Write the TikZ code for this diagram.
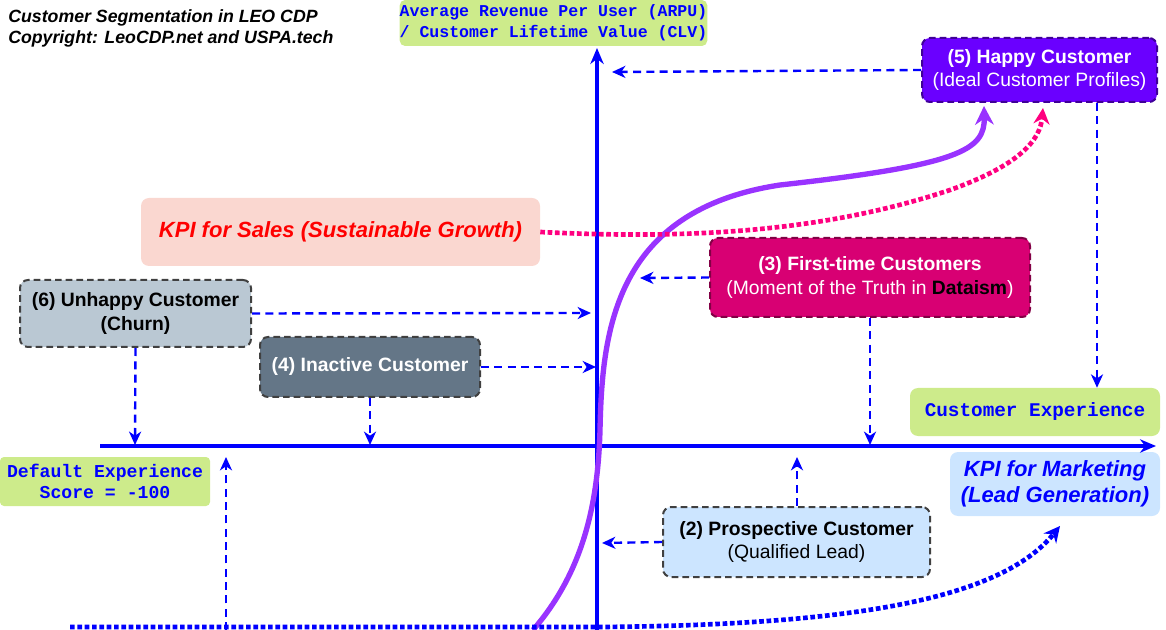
\documentclass[tikz,border=0pt]{standalone}
\usepackage{fontspec}
\setmainfont{Liberation Sans}
\setmonofont{Liberation Mono}
\usetikzlibrary{arrows.meta}
\definecolor{grn}{HTML}{CDEB8B}
\definecolor{happy}{HTML}{6A00FF}
\definecolor{first}{HTML}{D80073}
\definecolor{unh}{HTML}{BAC8D3}
\definecolor{inact}{HTML}{647687}
\definecolor{light}{HTML}{CCE5FF}
\definecolor{salesbg}{HTML}{FAD7D0}
\definecolor{pinkl}{HTML}{FF0080}
\definecolor{purp}{HTML}{9933FF}
\definecolor{ax}{HTML}{0000FF}
\tikzset{
  box/.style={rounded corners=6pt, inner sep=0pt, align=center, font=\fontsize{14.5}{17.5}\selectfont},
  dbox/.style={box, draw=black!75, dashed, dash pattern=on 5pt off 3pt, line width=1.5pt},
  darr/.style={ax, line width=1.8pt, dash pattern=on 6pt off 4pt, -{Stealth[length=10pt,width=9pt,inset=3pt]}},
  axis/.style={ax, line width=3pt, -{Stealth[length=12pt,width=10pt]}},
  monot/.style={font=\ttfamily\bfseries\fontsize{14.5}{16}\selectfont, text=ax},
}
\begin{document}
\begin{tikzpicture}[x=0.75pt,y=-0.75pt]
\useasboundingbox (0,0) rectangle (1166,630);
% title
\node[anchor=north west, align=left, font=\bfseries\itshape\fontsize{13.3}{16}\selectfont, inner sep=0pt] (title) at (8,9) {Customer Segmentation in LEO CDP\\Copyright: LeoCDP.net and USPA.tech};
% boxes
\node[box, fill=grn, minimum width=307*0.75pt, minimum height=46*0.75pt, monot, font=\ttfamily\bfseries\fontsize{12.4}{16}\selectfont, align=left, rounded corners=4pt] (arpu) at (553.5,23) {Average Revenue Per User (ARPU)\\/ Customer Lifetime Value (CLV)};
\node[dbox, fill=happy, draw=happy!60!black, text=white, minimum width=235*0.75pt, minimum height=64*0.75pt] (happy) at (1039.5,70) {\bfseries (5) Happy Customer\\(Ideal Customer Profiles)};
\node[box, fill=grn, minimum width=250*0.75pt, minimum height=48*0.75pt, monot] (cx) at (1035,412) {Customer Experience};
\node[box, fill=salesbg, minimum width=399*0.75pt, minimum height=68*0.75pt, text=red, font=\bfseries\itshape\fontsize{16.5}{20}\selectfont] (sales) at (340.5,232) {KPI for Sales (Sustainable Growth)};
\node[dbox, fill=first, draw=first!60!black, text=white, minimum width=320*0.75pt, minimum height=79*0.75pt] (first) at (870,277.5) {\bfseries (3) First-time Customers\\(Moment of the Truth in \textbf{\textcolor{black}{Dataism}})};
\node[dbox, fill=unh, minimum width=231*0.75pt, minimum height=67*0.75pt] (unh) at (135.5,313.5) {\bfseries (6) Unhappy Customer\\\bfseries (Churn)};
\node[dbox, fill=inact, text=white, minimum width=220*0.75pt, minimum height=60*0.75pt] (inact) at (370,367) {\bfseries (4) Inactive Customer};
\node[box, fill=grn, minimum width=210*0.75pt, minimum height=49*0.75pt, monot, font=\ttfamily\bfseries\fontsize{13.6}{16}\selectfont, rounded corners=3pt] (def) at (105,481.5) {Default Experience\\Score = -100};
\node[dbox, fill=light, minimum width=267*0.75pt, minimum height=70*0.75pt] (pros) at (796.5,542) {\bfseries (2) Prospective Customer\\(Qualified Lead)};
\node[box, fill=light, minimum width=210*0.75pt, minimum height=64*0.75pt, text=ax, font=\bfseries\itshape\fontsize{16.5}{19.5}\selectfont] (mkt) at (1055,484) {KPI for Marketing\\(Lead Generation)};
% axes
\coordinate (vb) at (597,630); \coordinate (vt) at (597,48);
\coordinate (hl) at (100,446); \coordinate (hr) at (1156,446);
\draw[axis] (vb) -- (vt);
\draw[axis] (hl) -- (hr);
% curves
\coordinate (pstart) at (533,630);
\draw[purp, line width=4pt, -{Stealth[length=14pt,width=14pt]}] (pstart) .. controls (585,570) and (598,500) .. (600,430)
  .. controls (602,330) and (615,210) .. (780,185) .. controls (960,165) and (985,150) .. (984,106);
\draw[pinkl, line width=3.5pt, dotted, -{Stealth[length=12pt,width=12pt]}] (sales.east) .. controls (700,240) and (830,230) .. (950,190) .. controls (1020,165) and (1040,140) .. (1043,108);
\coordinate (bl) at (70,627);
\draw[ax, line width=3.5pt, dotted, -{Stealth[length=12pt,width=12pt]}] (bl) -- (600,627) .. controls (850,625) and (1000,600) .. (1060,526);
% dashed connectors
\coordinate (h1) at (612,72);
\draw[darr] (happy.west) -- (h1);
\draw[darr] (happy.south -| 1097,0) -- (cx.north -| 1097,0);
\draw[darr] (first.west) -- (640,278);
\draw[darr] (first.south -| 870,0) -- (870,445);
\draw[darr] (unh.east) -- (591,313);
\draw[darr] (unh.south) -- (135,445);
\draw[darr] (inact.east) -- (596,367);
\draw[darr] (inact.south) -- (370,445);
\draw[darr] (226,630) -- (226,457);
\draw[darr] (pros.west) -- (602,543);
\draw[darr] (pros.north -| 797,0) -- (797,457);
\end{tikzpicture}
\end{document}
